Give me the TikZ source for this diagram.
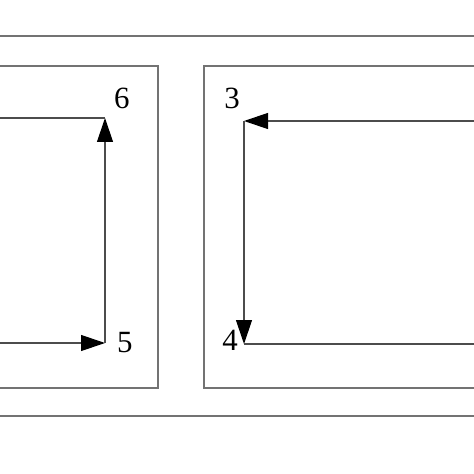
\documentclass[tikz,border=0pt]{standalone}
\usepackage{fontspec}
\setmainfont{Liberation Serif}
\usetikzlibrary{
  arrows.meta,
  positioning,  % labels placed "of" the corners
}
\tikzset{
  frame/.style={
    draw=black!55,
    line width=1.2bp
  },
  flow/.style={
    draw=black!70,
    line width=1.2bp
  },
  flow arrow/.style={
    flow,
    -{Triangle[length=24bp,width=16bp,color=black]}
  },
  corner label/.style={
    font=\fontsize{31}{31}\selectfont,
    inner sep=0pt
  }
}
\begin{document}
\begin{tikzpicture}[x=1bp,y=-1bp]
\useasboundingbox (0,0) rectangle (474,474);
\clip (0,0) rectangle (474,474);
% outer frame and the two boxes
\draw[frame] (-10,36) rectangle (490,416);
\draw[frame] (-10,66) rectangle (158,388);
\draw[frame] (204,66) rectangle (490,388);
% corners of the loops
\coordinate (c6) at (105,118);
\coordinate (c5) at (105,343);
\coordinate (l6) at (-10,118);
\coordinate (l5) at (-10,343);
\coordinate (c3) at (244,121);
\coordinate (c4) at (244,344);
\coordinate (r3) at (490,121);
\coordinate (r4) at (490,344);
% left loop
\draw[flow arrow] (l5) -- (c5);
\draw[flow arrow] (c5) -- (c6);
\draw[flow] (c6) -- (l6);
% right loop
\draw[flow arrow] (r3) -- (c3);
\draw[flow arrow] (c3) -- (c4);
\draw[flow] (c4) -- (r4);
% labels
\node[corner label,above right=9bp and 9bp of c6]   (n6) {6};
\node[corner label,right=12bp of c5]                (n5) {5};
\node[corner label,above left=12bp and 4bp of c3]   (n3) {3};
\node[corner label,left=6bp of c4,yshift=4bp]       (n4) {4};
\end{tikzpicture}
\end{document}
